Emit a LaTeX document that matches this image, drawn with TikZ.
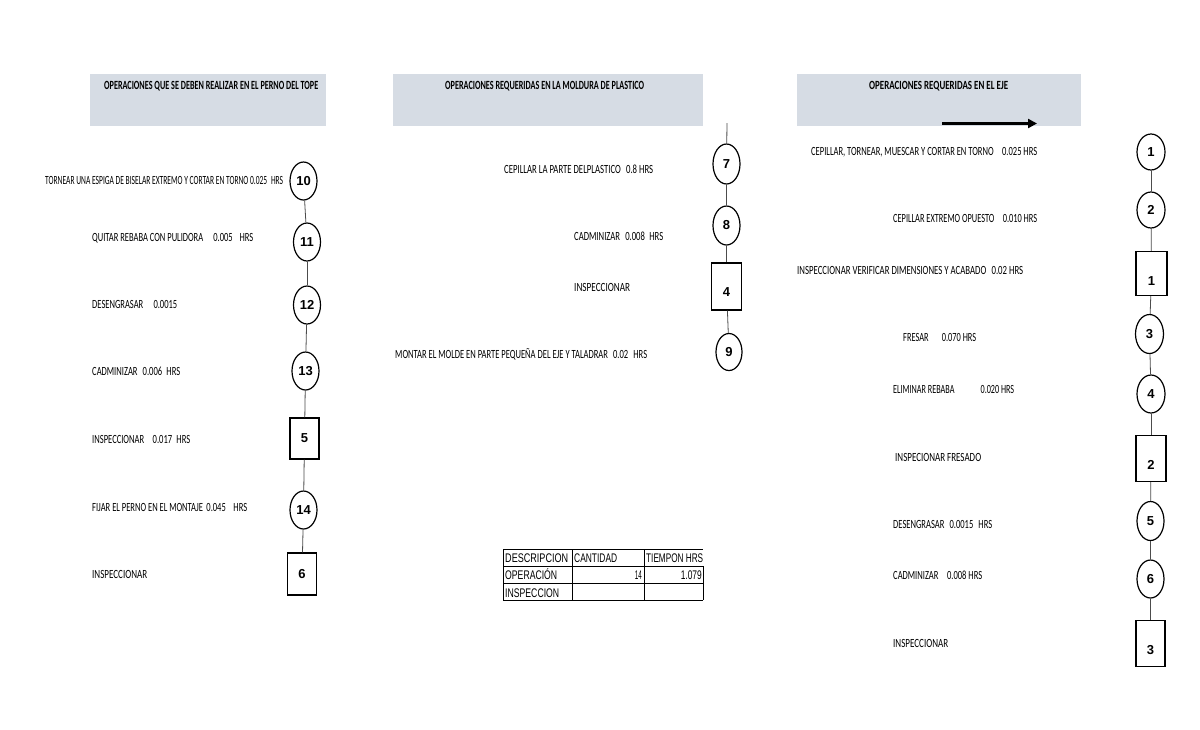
\documentclass[tikz,border=0pt]{standalone}
\usepackage{fontspec}
\usepackage{graphicx}
\usetikzlibrary{shapes.geometric,arrows.meta}
\newfontfamily\calf{Carlito}
\newfontfamily\arlf{Liberation Sans}
\definecolor{hdr}{HTML}{D6DCE4}
\newcommand\fw[2]{\resizebox{#1pt}{\height}{#2}}
\begin{document}
\begin{tikzpicture}[x=1pt,y=-1pt,
  tx/.style={anchor=base west,inner sep=0pt,font=\calf\fontsize{12.5}{13}\selectfont},
  hd/.style={anchor=base west,inner sep=0pt,font=\calf\bfseries\fontsize{12.5}{13}\selectfont},
  tb/.style={anchor=base west,inner sep=0pt,font=\arlf\fontsize{12.5}{13}\selectfont},
  tbr/.style={anchor=base east,inner sep=0pt,font=\arlf\fontsize{12.5}{13}\selectfont},
  opc/.style={ellipse,draw=black,line width=1.2pt,minimum width=27pt,minimum height=38pt,inner sep=0pt,font=\arlf\bfseries\fontsize{13}{13}\selectfont},
  insp/.style={rectangle,draw=black,line width=1.2pt,minimum width=30pt,minimum height=42pt,inner sep=0pt,font=\arlf\bfseries\fontsize{13}{13}\selectfont},
  conn/.style={draw=black!70,line width=0.8pt},
  grid/.style={draw=black,line width=0.9pt}]
\useasboundingbox[fill=white] (0,0) rectangle (1200,729);

% header bands
\fill[hdr] (90,74) rectangle (326,126);
\fill[hdr] (393,74) rectangle (703,126);
\fill[hdr] (797,74) rectangle (1081,126);
\node[hd] (h1) at (104,89.5) {\fw{214}{OPERACIONES QUE SE DEBEN REALIZAR EN EL PERNO DEL TOPE}};
\node[hd] (h2) at (445,89.5) {\fw{199}{OPERACIONES REQUERIDAS EN LA MOLDURA DE PLASTICO}};
\node[hd] (h3) at (869,89.5) {\fw{139}{OPERACIONES REQUERIDAS EN EL EJE}};

% arrow
\coordinate (aS) at (942,123.5);
\coordinate (aE) at (1037,123.5);
\draw[line width=3.2pt,-{Triangle[length=9pt,width=9pt]}] (aS) -- (aE);

% ---------- left column ----------
\node[tx] (t10) at (45,184.5) {\fw{238}{TORNEAR UNA ESPIGA DE BISELAR EXTREMO Y CORTAR EN TORNO 0.025\hspace{0.5em}HRS}};
\node[tx] (t11) at (92,241.5) {\fw{161}{QUITAR REBABA CON PULIDORA\hspace{1.2em}0.005\hspace{0.8em}HRS}};
\node[tx] (t12) at (92,308.5) {\fw{85}{DESENGRASAR\hspace{1.2em}0.0015}};
\node[tx] (t13) at (92,375.5) {\fw{88}{CADMINIZAR\hspace{0.6em}0.006\hspace{0.5em}HRS}};
\node[tx] (t5) at (92,443.5) {\fw{98}{INSPECCIONAR\hspace{1em}0.017\hspace{0.5em}HRS}};
\node[tx] (t14) at (92,511.5) {\fw{155}{FIJAR EL PERNO EN EL MONTAJE\hspace{0.4em}0.045\hspace{0.9em}HRS}};
\node[tx] (t6) at (92,578.5) {\fw{55}{INSPECCIONAR}};

\node[opc] (c10) at (303.5,181) {10};
\node[opc] (c11) at (307,242) {11};
\node[opc] (c12) at (307,305) {12};
\node[opc] (c13) at (305.5,371) {13};
\node[insp,minimum width=29pt,minimum height=41pt] (b5) at (304.5,438.5) {5};
\node[opc] (c14) at (303.5,510) {14};
\node[insp,minimum width=29pt,minimum height=42pt] (b6) at (302,574) {6};
\draw[conn] (c10) -- (c11);
\draw[conn] (c11) -- (c12);
\draw[conn] (c12) -- (c13);
\draw[conn] (c13) -- (b5);
\draw[conn] (b5) -- (c14);
\draw[conn] (c14) -- (b6);

% ---------- middle column ----------
\node[tx] (t7) at (504,173.5) {\fw{149}{CEPILLAR LA PARTE DELPLASTICO\hspace{0.6em}0.8 HRS}};
\node[tx] (t8) at (574,240.5) {\fw{89}{CADMINIZAR\hspace{0.6em}0.008\hspace{0.5em}HRS}};
\node[tx] (t4) at (574,291.5) {\fw{56}{INSPECCIONAR}};
\node[tx] (t9) at (395,358) {\fw{252}{MONTAR EL MOLDE EN PARTE PEQUEÑA DEL EJE Y TALADRAR\hspace{0.6em}0.02\hspace{0.6em}HRS}};

\coordinate (mtop) at (727,123);
\node[opc,minimum height=40pt] (c7) at (726.5,164) {7};
\node[opc,minimum height=39pt] (c8) at (726.5,225.5) {8};
\node[insp,minimum width=30pt,minimum height=47pt,text height=19pt,text depth=0pt] (b4) at (726.5,286.5) {4};
\node[opc,minimum width=26pt,minimum height=37pt] (c9) at (729,352) {9};
\draw[conn] (mtop) -- (c7);
\draw[conn] (c7) -- (c8);
\draw[conn] (c8) -- (b4);
\draw[conn] (b4) -- (c9);

% ---------- right column ----------
\node[tx] (r1t) at (811,155.5) {\fw{226}{CEPILLAR, TORNEAR, MUESCAR Y CORTAR EN TORNO\hspace{1em}0.025 HRS}};
\node[tx] (r2t) at (893,222) {\fw{144}{CEPILLAR EXTREMO OPUESTO\hspace{1em}0.010 HRS}};
\node[tx] (rb1t) at (797,274) {\fw{226}{INSPECCIONAR VERIFICAR DIMENSIONES Y ACABADO\hspace{0.6em}0.02 HRS}};
\node[tx] (r3t) at (903,341) {\fw{73}{FRESAR\hspace{1.6em}0.070 HRS}};
\node[tx] (r4t) at (893,393) {\fw{121}{ELIMINAR REBABA\hspace{3.2em}0.020 HRS}};
\node[tx] (rb2t) at (895,461) {\fw{86}{INSPECIONAR FRESADO}};
\node[tx] (r5t) at (893,528.5) {\fw{99}{DESENGRASAR\hspace{0.6em}0.0015\hspace{0.6em}HRS}};
\node[tx] (r6t) at (893,579.5) {\fw{89}{CADMINIZAR\hspace{1em}0.008 HRS}};
\node[tx] (rb3t) at (893,647.5) {\fw{55}{INSPECCIONAR}};

\node[opc,minimum width=28pt,minimum height=36pt] (r1) at (1151,152) {1};
\node[opc,minimum width=28pt,minimum height=36pt] (r2) at (1151,210) {2};
\node[insp,minimum width=31pt,minimum height=44pt,text height=24pt,text depth=0pt] (rb1) at (1151.5,273.5) {1};
\node[opc,minimum width=28pt,minimum height=39pt] (r3) at (1149.5,334) {3};
\node[opc,minimum width=28pt,minimum height=38pt] (r4) at (1151,394) {4};
\node[insp,minimum width=30pt,minimum height=46pt,text height=22pt,text depth=0pt] (rb2) at (1151,458.5) {2};
\node[opc,minimum width=27pt,minimum height=39pt] (r5) at (1150.5,521) {5};
\node[opc,minimum width=27pt,minimum height=38pt] (r6) at (1150.5,579) {6};
\node[insp,minimum width=29pt,minimum height=46pt,text height=21pt,text depth=0pt] (rb3) at (1150.5,643.5) {3};
\draw[conn] (r1) -- (r2);
\draw[conn] (r2) -- (rb1);
\draw[conn] (rb1) -- (r3);
\draw[conn] (r3) -- (r4);
\draw[conn] (r4) -- (rb2);
\draw[conn] (rb2) -- (r5);
\draw[conn] (r5) -- (r6);
\draw[conn] (r6) -- (rb3);

% ---------- table ----------
\draw[grid] (503,549) -- (703,549);
\draw[grid] (503,566) -- (703,566);
\draw[grid] (503,583) -- (703,583);
\draw[grid] (503,600) -- (703,600);
\draw[grid] (503,549) -- (503,600);
\draw[grid] (572,549) -- (572,600);
\draw[grid] (644,549) -- (644,600);
\draw[grid] (703,566) -- (703,600);
\node[tb] (th1) at (505,562) {\fw{63}{DESCRIPCION}};
\node[tb] (th2) at (574,562) {\fw{43}{CANTIDAD}};
\node[tb] (th3) at (646,562) {\fw{57}{TIEMPON HRS}};
\node[tb] (tr1) at (505,579.5) {\fw{52}{OPERACIÓN}};
\node[tbr] (tr2) at (642,579.5) {\fw{7}{14}};
\node[tbr] (tr3) at (702,579.5) {\fw{21}{1.079}};
\node[tb] (tr4) at (505,597) {\fw{54}{INSPECCION}};
\end{tikzpicture}
\end{document}
